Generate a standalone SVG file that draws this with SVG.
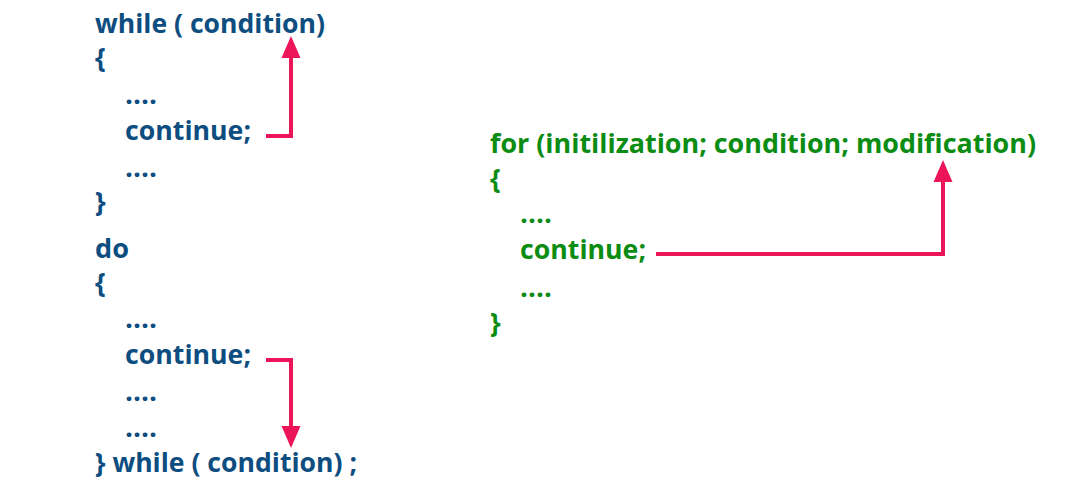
<svg xmlns="http://www.w3.org/2000/svg" width="1080" height="500" viewBox="0 0 1080 500">
<style>
text{font-family:"Open Sans","Noto Sans","Liberation Sans",sans-serif;font-weight:bold;font-size:27px}
.b{fill:#0d4d80}
.g{fill:#0b8c12}
.c{fill:none;stroke:#ec1559;stroke-width:4;stroke-linejoin:miter}
</style>
<defs>
<marker id="ah" markerUnits="userSpaceOnUse" markerWidth="24" markerHeight="22" refX="0" refY="10" orient="auto" viewBox="0 0 24 20">
<path d="M0,0.5 L22,10 L0,19.5 z" fill="#ec1559"/>
</marker>
</defs>
<rect width="1080" height="500" fill="#ffffff"/>
<g id="while-loop" class="b">
<text class="b" x="95" y="33" textLength="230" lengthAdjust="spacingAndGlyphs">while ( condition)</text>
<text class="b" x="95" y="67">{</text>
<text class="b" x="125" y="104" textLength="32" lengthAdjust="spacingAndGlyphs">....</text>
<text class="b" x="125" y="140" textLength="126" lengthAdjust="spacingAndGlyphs">continue;</text>
<text class="b" x="125" y="177" textLength="32" lengthAdjust="spacingAndGlyphs">....</text>
<text class="b" x="95" y="211">}</text>
</g>
<g id="do-while-loop" class="b">
<text class="b" x="95" y="258" textLength="34" lengthAdjust="spacingAndGlyphs">do</text>
<text class="b" x="95" y="292">{</text>
<text class="b" x="125" y="328" textLength="32" lengthAdjust="spacingAndGlyphs">....</text>
<text class="b" x="125" y="364" textLength="126" lengthAdjust="spacingAndGlyphs">continue;</text>
<text class="b" x="125" y="401" textLength="32" lengthAdjust="spacingAndGlyphs">....</text>
<text class="b" x="125" y="437" textLength="32" lengthAdjust="spacingAndGlyphs">....</text>
<text class="b" x="95" y="472" textLength="262" lengthAdjust="spacingAndGlyphs">} while ( condition) ;</text>
</g>
<g id="for-loop" class="g">
<text class="g" x="490" y="153" textLength="546" lengthAdjust="spacingAndGlyphs">for (initilization; condition; modification)</text>
<text class="g" x="490" y="188">{</text>
<text class="g" x="520" y="223" textLength="32" lengthAdjust="spacingAndGlyphs">....</text>
<text class="g" x="520" y="259" textLength="126" lengthAdjust="spacingAndGlyphs">continue;</text>
<text class="g" x="520" y="297" textLength="32" lengthAdjust="spacingAndGlyphs">....</text>
<text class="g" x="490" y="332">}</text>
</g>
<g id="connectors">
<path class="c" d="M266,136 H291 V58" marker-end="url(#ah)"/>
<path class="c" d="M266,360 H291 V426" marker-end="url(#ah)"/>
<path class="c" d="M656,254 H943 V182" marker-end="url(#ah)"/>
</g>
</svg>
